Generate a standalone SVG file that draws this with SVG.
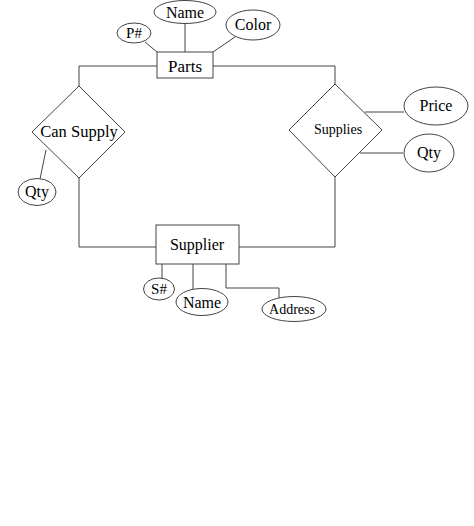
<svg xmlns="http://www.w3.org/2000/svg" width="474" height="526" viewBox="0 0 474 526">
<style>
.s{fill:#fff;stroke:#444;stroke-width:1}
.c{fill:none;stroke:#444;stroke-width:1}
text{font-family:"Liberation Serif","Times New Roman",serif;fill:#000;text-anchor:middle;dominant-baseline:central}
</style>
<rect width="474" height="526" fill="#fff"/>
<g id="connectors">
<line class="c" x1="185" y1="23" x2="185" y2="52"/>
<line class="c" x1="145" y1="42" x2="157" y2="52"/>
<line class="c" x1="213" y1="52" x2="235" y2="37"/>
<polyline class="c" points="157,66 79,66 79,86"/>
<polyline class="c" points="213,66 335,66 335,84"/>
<line class="c" x1="46" y1="150" x2="40" y2="179"/>
<polyline class="c" points="79,178 79,247 156,247"/>
<polyline class="c" points="239,247 335,247 335,177"/>
<line class="c" x1="365" y1="112" x2="404" y2="112"/>
<line class="c" x1="360" y1="153" x2="403" y2="153"/>
<line class="c" x1="162" y1="264" x2="162" y2="278"/>
<line class="c" x1="193" y1="264" x2="193" y2="289"/>
<polyline class="c" points="226,264 226,288 279,288 279,298"/>
</g>
<g id="parts"><rect class="s" x="157" y="52" width="56" height="26"/><text x="185" y="66" font-size="17">Parts</text></g>
<g id="parts-name"><ellipse class="s" cx="185" cy="12" rx="31" ry="11.5"/><text x="185" y="12" font-size="16">Name</text></g>
<g id="parts-pno"><ellipse class="s" cx="134" cy="33" rx="17" ry="10"/><text x="134" y="33" font-size="15">P#</text></g>
<g id="parts-color"><ellipse class="s" cx="253" cy="25" rx="27" ry="15"/><text x="253" y="24" font-size="16">Color</text></g>
<g id="can-supply"><polygon class="s" points="79,86 125,132 79,178 32,132"/><text x="79" y="131" font-size="16.5">Can Supply</text></g>
<g id="can-supply-qty"><ellipse class="s" cx="37" cy="192" rx="19" ry="13.5"/><text x="37" y="191" font-size="16">Qty</text></g>
<g id="supplies"><polygon class="s" points="335,84 382,130 335,177 289,130"/><text x="338" y="129" font-size="14">Supplies</text></g>
<g id="supplies-price"><ellipse class="s" cx="436" cy="106" rx="32" ry="19"/><text x="436" y="105" font-size="16">Price</text></g>
<g id="supplies-qty"><ellipse class="s" cx="429" cy="153" rx="25" ry="19"/><text x="429" y="152" font-size="16">Qty</text></g>
<g id="supplier"><rect class="s" x="156" y="225" width="83" height="39"/><text x="197" y="244" font-size="16">Supplier</text></g>
<g id="supplier-sno"><ellipse class="s" cx="159" cy="289" rx="15.5" ry="11"/><text x="159" y="289" font-size="15">S#</text></g>
<g id="supplier-name"><ellipse class="s" cx="202" cy="302" rx="26" ry="13.5"/><text x="202" y="302" font-size="16">Name</text></g>
<g id="supplier-address"><ellipse class="s" cx="294" cy="309" rx="32" ry="12.5"/><text x="292" y="309" font-size="14">Address</text></g>
</svg>
